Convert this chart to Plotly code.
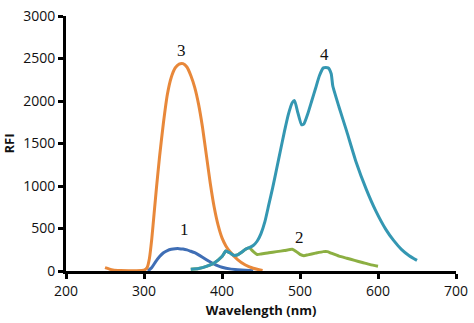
import plotly.graph_objects as go

# Series 1 (blue)
wl1 = [305, 310, 315, 320, 325, 330, 335, 340, 345, 350, 355, 360, 365, 370, 375, 380, 385, 390, 395, 400, 410, 420, 430, 440]
rfi1 = [0, 40, 110, 170, 215, 240, 255, 262, 263, 258, 248, 232, 215, 190, 162, 133, 105, 80, 60, 45, 25, 15, 8, 3]

# Series 2 (green)
wl2 = [360, 370, 380, 390, 400, 405, 410, 415, 420, 425, 430, 435, 440, 445, 450, 460, 470, 480, 490, 495, 500, 505, 510, 520, 530, 535, 540, 550, 560, 570, 580, 590, 600]
rfi2 = [20, 30, 55, 95, 170, 235, 215, 185, 190, 220, 255, 272, 230, 195, 200, 215, 228, 240, 255, 230, 195, 180, 190, 210, 228, 228, 210, 175, 150, 125, 100, 75, 55]

# Series 3 (orange)
wl3 = [250, 255, 260, 270, 280, 290, 300, 304, 307, 310, 313, 316, 320, 325, 330, 335, 340, 345, 350, 355, 360, 365, 370, 375, 380, 385, 390, 395, 400, 405, 410, 420, 430, 440, 452]
rfi3 = [40, 25, 12, 5, 3, 3, 10, 40, 150, 380, 680, 980, 1350, 1750, 2080, 2280, 2390, 2435, 2440, 2400, 2300, 2160, 1960, 1690, 1360, 1030, 750, 540, 390, 295, 230, 135, 70, 32, 5]

# Series 4 (teal)
wl4 = [360, 370, 380, 390, 400, 405, 410, 415, 420, 425, 430, 435, 440, 445, 450, 455, 460, 465, 470, 475, 480, 485, 490, 493, 497, 502, 505, 510, 515, 520, 525, 530, 536, 540, 542, 550, 560, 572, 585, 597, 610, 620, 630, 640, 650]
rfi4 = [20, 30, 55, 95, 170, 235, 215, 185, 190, 220, 255, 275, 300, 350, 440, 580, 780, 980, 1200, 1420, 1640, 1840, 1980, 2005, 1870, 1720, 1730, 1850, 2000, 2150, 2300, 2390, 2390, 2320, 2180, 1930, 1640, 1280, 960, 710, 490, 360, 255, 180, 125]

labels = ["1", "2", "3", "4"]
label_x = [352, 499, 348, 532]
label_y = [490, 395, 2590, 2550]

colors = ["#3F6EB5", "#8CAF42", "#E8883A", "#3497B2"]

fig = go.Figure()
for wl, rfi, c in [(wl1, rfi1, colors[0]), (wl2, rfi2, colors[1]), (wl3, rfi3, colors[2]), (wl4, rfi4, colors[3])]:
    fig.add_trace(go.Scatter(x=wl, y=rfi, mode="lines",
                             line=dict(color=c, width=3, shape="spline", smoothing=0.5),
                             showlegend=False, hoverinfo="skip"))

for t, x, y in zip(labels, label_x, label_y):
    fig.add_annotation(x=x, y=y, text=t, showarrow=False,
                       font=dict(family="Liberation Serif", size=17, color="#111111"))

fig.update_layout(
    width=474, height=323,
    margin=dict(l=66, r=13, t=6, b=50),
    paper_bgcolor="white", plot_bgcolor="white",
    font=dict(family="Open Sans", size=14, color="#111111"),
)
fig.update_xaxes(range=[200, 700], tickvals=[200, 300, 400, 500, 600, 700],
                 showgrid=False, zeroline=False, showline=True, linecolor="black", linewidth=3,
                 ticks="outside", ticklen=5, tickwidth=3, tickcolor="black",
                 tickfont=dict(family="Open Sans", size=14), ticklabeloverflow="allow",
                 title=dict(text="<b>Wavelength (nm)</b>", font=dict(family="Open Sans", size=13), standoff=8))
fig.update_yaxes(range=[0, 3000], tickvals=[0, 500, 1000, 1500, 2000, 2500, 3000],
                 showgrid=False, zeroline=False, showline=True, linecolor="black", linewidth=3,
                 ticks="outside", ticklen=5, tickwidth=3, tickcolor="black",
                 tickfont=dict(family="Open Sans", size=14), ticklabeloverflow="allow",
                 title=dict(text="<b>RFI</b>", font=dict(family="Open Sans", size=13), standoff=6))

fig.write_html("out.html")
